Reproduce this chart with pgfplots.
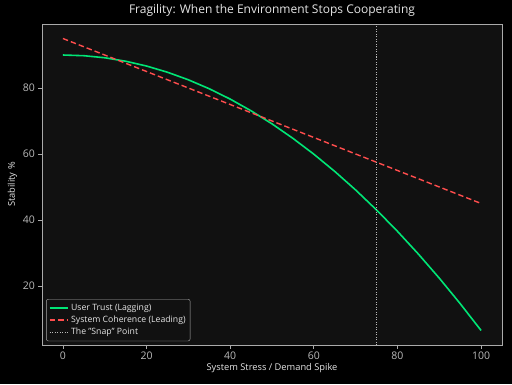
\documentclass[border=0pt]{standalone}
\usepackage{pgfplots}
\pgfplotsset{compat=1.18}
\usepackage{fontspec}
\setmainfont{Open Sans}
\definecolor{bgin}{HTML}{111111}
\definecolor{tickcol}{HTML}{BBBBBB}
\definecolor{framecol}{HTML}{AAAAAA}
\definecolor{trust}{HTML}{00E676}
\definecolor{coh}{HTML}{FF4D4D}
\pgfdeclarelayer{background}
\pgfsetlayers{background,main}
\begin{document}
\begin{tikzpicture}
\begin{pgfonlayer}{background}
\fill[black] (0,0) rectangle (512pt,384pt);
\end{pgfonlayer}
\begin{axis}[
  at={(42pt,39pt)}, anchor=south west,
  scale only axis, width=460pt, height=321pt,
  xmin=-5, xmax=105, ymin=2.1, ymax=99.4,
  axis background/.style={fill=bgin},
  axis line style={framecol, line width=0.8pt},
  xtick={0,20,40,60,80,100}, ytick={20,40,60,80},
  tick align=outside, tick pos=left,
  major tick length=3.5pt,
  tick style={framecol, line width=0.8pt},
  ticklabel style={font=\fontsize{10.5}{12}\selectfont, text=tickcol},
  /pgf/number format/assume math mode=true,
  title={Fragility: When the Environment Stops Cooperating},
  title style={font=\fontsize{12}{14}\selectfont, text=white!90!black, at={(0.5,1)}, yshift=-2pt},
  xlabel={System Stress / Demand Spike},
  ylabel={Stability \%},
  label style={font=\fontsize{9.3}{11}\selectfont, text=white!90!black},
  xlabel style={yshift=3pt},
  ylabel style={yshift=-1pt},
  legend style={at={(0.009,0.012)}, anchor=south west, fill=bgin, draw=framecol, rounded corners=2pt,
    font=\fontsize{8.7}{10}\selectfont, row sep=0.3pt, inner sep=2.5pt,
    nodes={text=white!90!black}},
  legend cell align=left,
]
\addlegendimage{legend image code/.code={\draw[draw=trust, line width=1.8pt] (0cm,0cm) -- (0.65cm,0cm);}}
\addlegendentry{User Trust (Lagging)}
\addlegendimage{legend image code/.code={\draw[draw=coh, line width=1.4pt, dash pattern=on 5.5pt off 3pt] (0cm,0cm) -- (0.65cm,0cm);}}
\addlegendentry{System Coherence (Leading)}
\addlegendimage{legend image code/.code={\draw[draw=tickcol, line width=0.9pt, dash pattern=on 1pt off 1.5pt] (0cm,0cm) -- (0.65cm,0cm);}}
\addlegendentry{The "Snap" Point}
\addplot[trust, line width=1.6pt, forget plot] coordinates {
(0,90.00) (5,89.79) (10,89.17) (15,88.12) (20,86.66) (25,84.78) (30,82.49)
(35,79.77) (40,76.64) (45,73.09) (50,69.13) (55,64.74) (60,59.94) (65,54.72)
(70,49.09) (75,43.03) (80,36.56) (85,29.67) (90,22.37) (95,14.64) (100,6.50)};
\addplot[coh, line width=1.4pt, dash pattern=on 5.5pt off 3pt, forget plot] coordinates {
(0,95) (100,45)};
\addplot[tickcol, line width=0.9pt, dash pattern=on 1pt off 1.5pt, forget plot] coordinates {(75,2.1) (75,99.4)};
\end{axis}
\end{tikzpicture}
\end{document}
